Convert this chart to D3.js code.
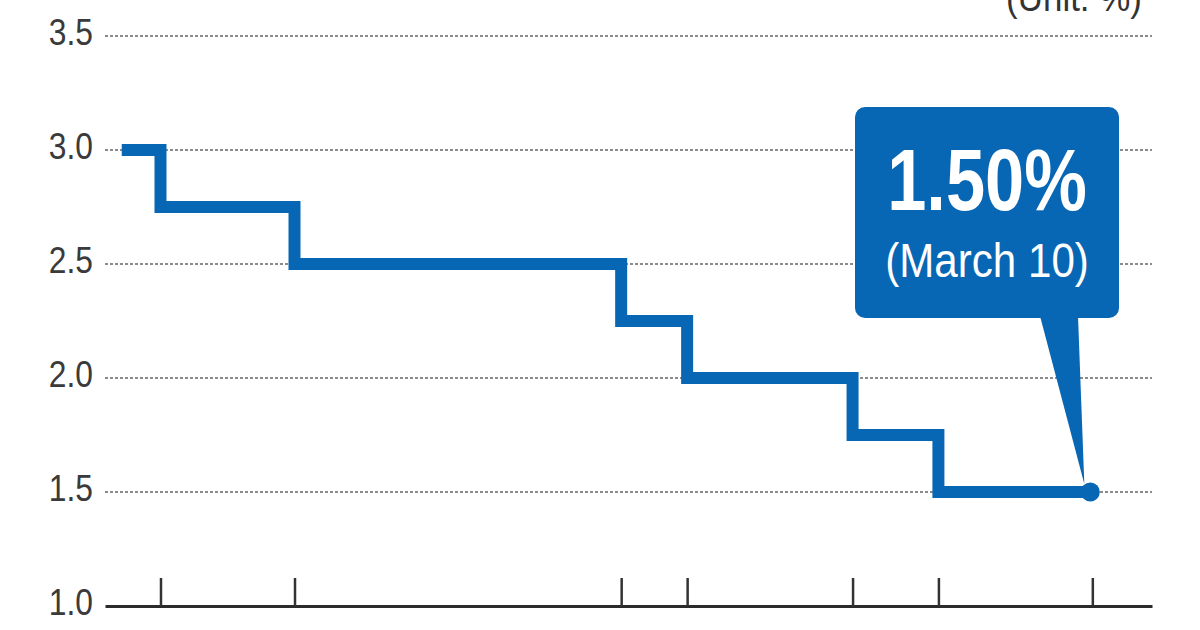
<!DOCTYPE html>
<html>
<head>
<meta charset="utf-8">
<script src="https://cdn.jsdelivr.net/npm/d3@7"></script>
<style>
  body { margin: 0; background: #fff; }
  svg { display: block; }
</style>
</head>
<body>
<div id="chart"></div>
<script>
// step data: position along the time axis (unlabelled) and the rate from that point on
var periods = [1.6, 5.3, 18.1, 49.3, 55.6, 71.4, 79.6, 94.3];
var rates = [3.0, 2.75, 2.5, 2.25, 2.0, 1.75, 1.5, 1.5];
var tickPeriods = [5.3, 18.1, 49.3, 55.6, 71.4, 79.6, 94.3];
var yTicks = [1.0, 1.5, 2.0, 2.5, 3.0, 3.5];
var unitLabel = "(Unit: %)";
var calloutValue = "1.50%";
var calloutDate = "(March 10)";

var width = 1200, height = 630;
var blue = "#0867b4";
var font = "'Liberation Sans', Arial, sans-serif";

var svg = d3.select("#chart").append("svg")
    .attr("width", width)
    .attr("height", height);

var x = d3.scaleLinear().domain([0, 100]).range([105, 1152]);
var y = d3.scaleLinear().domain([1.0, 3.5]).range([606, 36]);

// dashed gridlines
svg.append("g")
  .selectAll("line")
  .data(yTicks.filter(function(d) { return d > 1.0; }))
  .enter().append("line")
    .attr("x1", x(0))
    .attr("x2", x(100))
    .attr("y1", function(d) { return y(d); })
    .attr("y2", function(d) { return y(d); })
    .attr("stroke", "#666")
    .attr("stroke-width", 1.5)
    .attr("stroke-dasharray", "3,2");

// y labels (squeezed horizontally, like a narrow face)
svg.append("g")
  .selectAll("text")
  .data(yTicks)
  .enter().append("text")
    .attr("transform", function(d) { return "translate(93," + (y(d) + 9) + ") scale(0.86,1)"; })
    .attr("text-anchor", "end")
    .attr("font-family", font)
    .attr("font-size", 37)
    .attr("fill", "#3a3a3a")
    .text(function(d) { return d.toFixed(1); });

// bottom axis with tick marks at each change
var xAxis = d3.axisBottom(x)
    .tickValues(tickPeriods)
    .tickSizeInner(-28)
    .tickSizeOuter(0)
    .tickFormat("");

var axisG = svg.append("g")
    .attr("transform", "translate(0," + y(1.0) + ")")
    .call(xAxis);
axisG.select(".domain")
    .attr("stroke", "#2b2b2b")
    .attr("stroke-width", 3);
axisG.selectAll(".tick line")
    .attr("stroke", "#333")
    .attr("stroke-width", 2.5);

// step line
var steps = periods.map(function(p, i) { return [p, rates[i]]; });
var line = d3.line()
    .x(function(d) { return x(d[0]); })
    .y(function(d) { return y(d[1]); })
    .curve(d3.curveStepAfter);

svg.append("path")
    .datum(steps)
    .attr("d", line)
    .attr("fill", "none")
    .attr("stroke", blue)
    .attr("stroke-width", 12)
    .attr("stroke-linejoin", "miter")
    .attr("stroke-linecap", "butt");

var last = steps[steps.length - 1];
svg.append("circle")
    .attr("cx", x(last[0]) - 2)
    .attr("cy", y(last[1]))
    .attr("r", 9.5)
    .attr("fill", blue);

// callout box
var box = {x: 855, y: 107, w: 264, h: 211};
var callout = svg.append("g");
callout.append("rect")
    .attr("x", box.x)
    .attr("y", box.y)
    .attr("width", box.w)
    .attr("height", box.h)
    .attr("rx", 10)
    .attr("fill", blue);

callout.append("path")
    .attr("d", "M" + (box.x + 185) + "," + (box.y + box.h - 2) +
               " L" + (box.x + 223) + "," + (box.y + box.h - 2) +
               " L" + (x(last[0]) - 8) + "," + (y(last[1]) - 8) + " Z")
    .attr("fill", blue);

callout.append("text")
    .attr("transform", "translate(" + (box.x + box.w / 2) + ",210) scale(0.8,1)")
    .attr("text-anchor", "middle")
    .attr("font-family", font)
    .attr("font-weight", "bold")
    .attr("font-size", 88)
    .attr("fill", "#fff")
    .text(calloutValue);

callout.append("text")
    .attr("transform", "translate(" + (box.x + box.w / 2) + ",277) scale(0.86,1)")
    .attr("text-anchor", "middle")
    .attr("font-family", font)
    .attr("font-size", 49)
    .attr("fill", "#fff")
    .text(calloutDate);

// unit label, cut at the top edge as in the original
svg.append("text")
    .attr("transform", "translate(1142,11) scale(0.92,1)")
    .attr("text-anchor", "end")
    .attr("font-family", font)
    .attr("font-size", 38)
    .attr("fill", "#333")
    .text(unitLabel);
</script>
</body>
</html>
